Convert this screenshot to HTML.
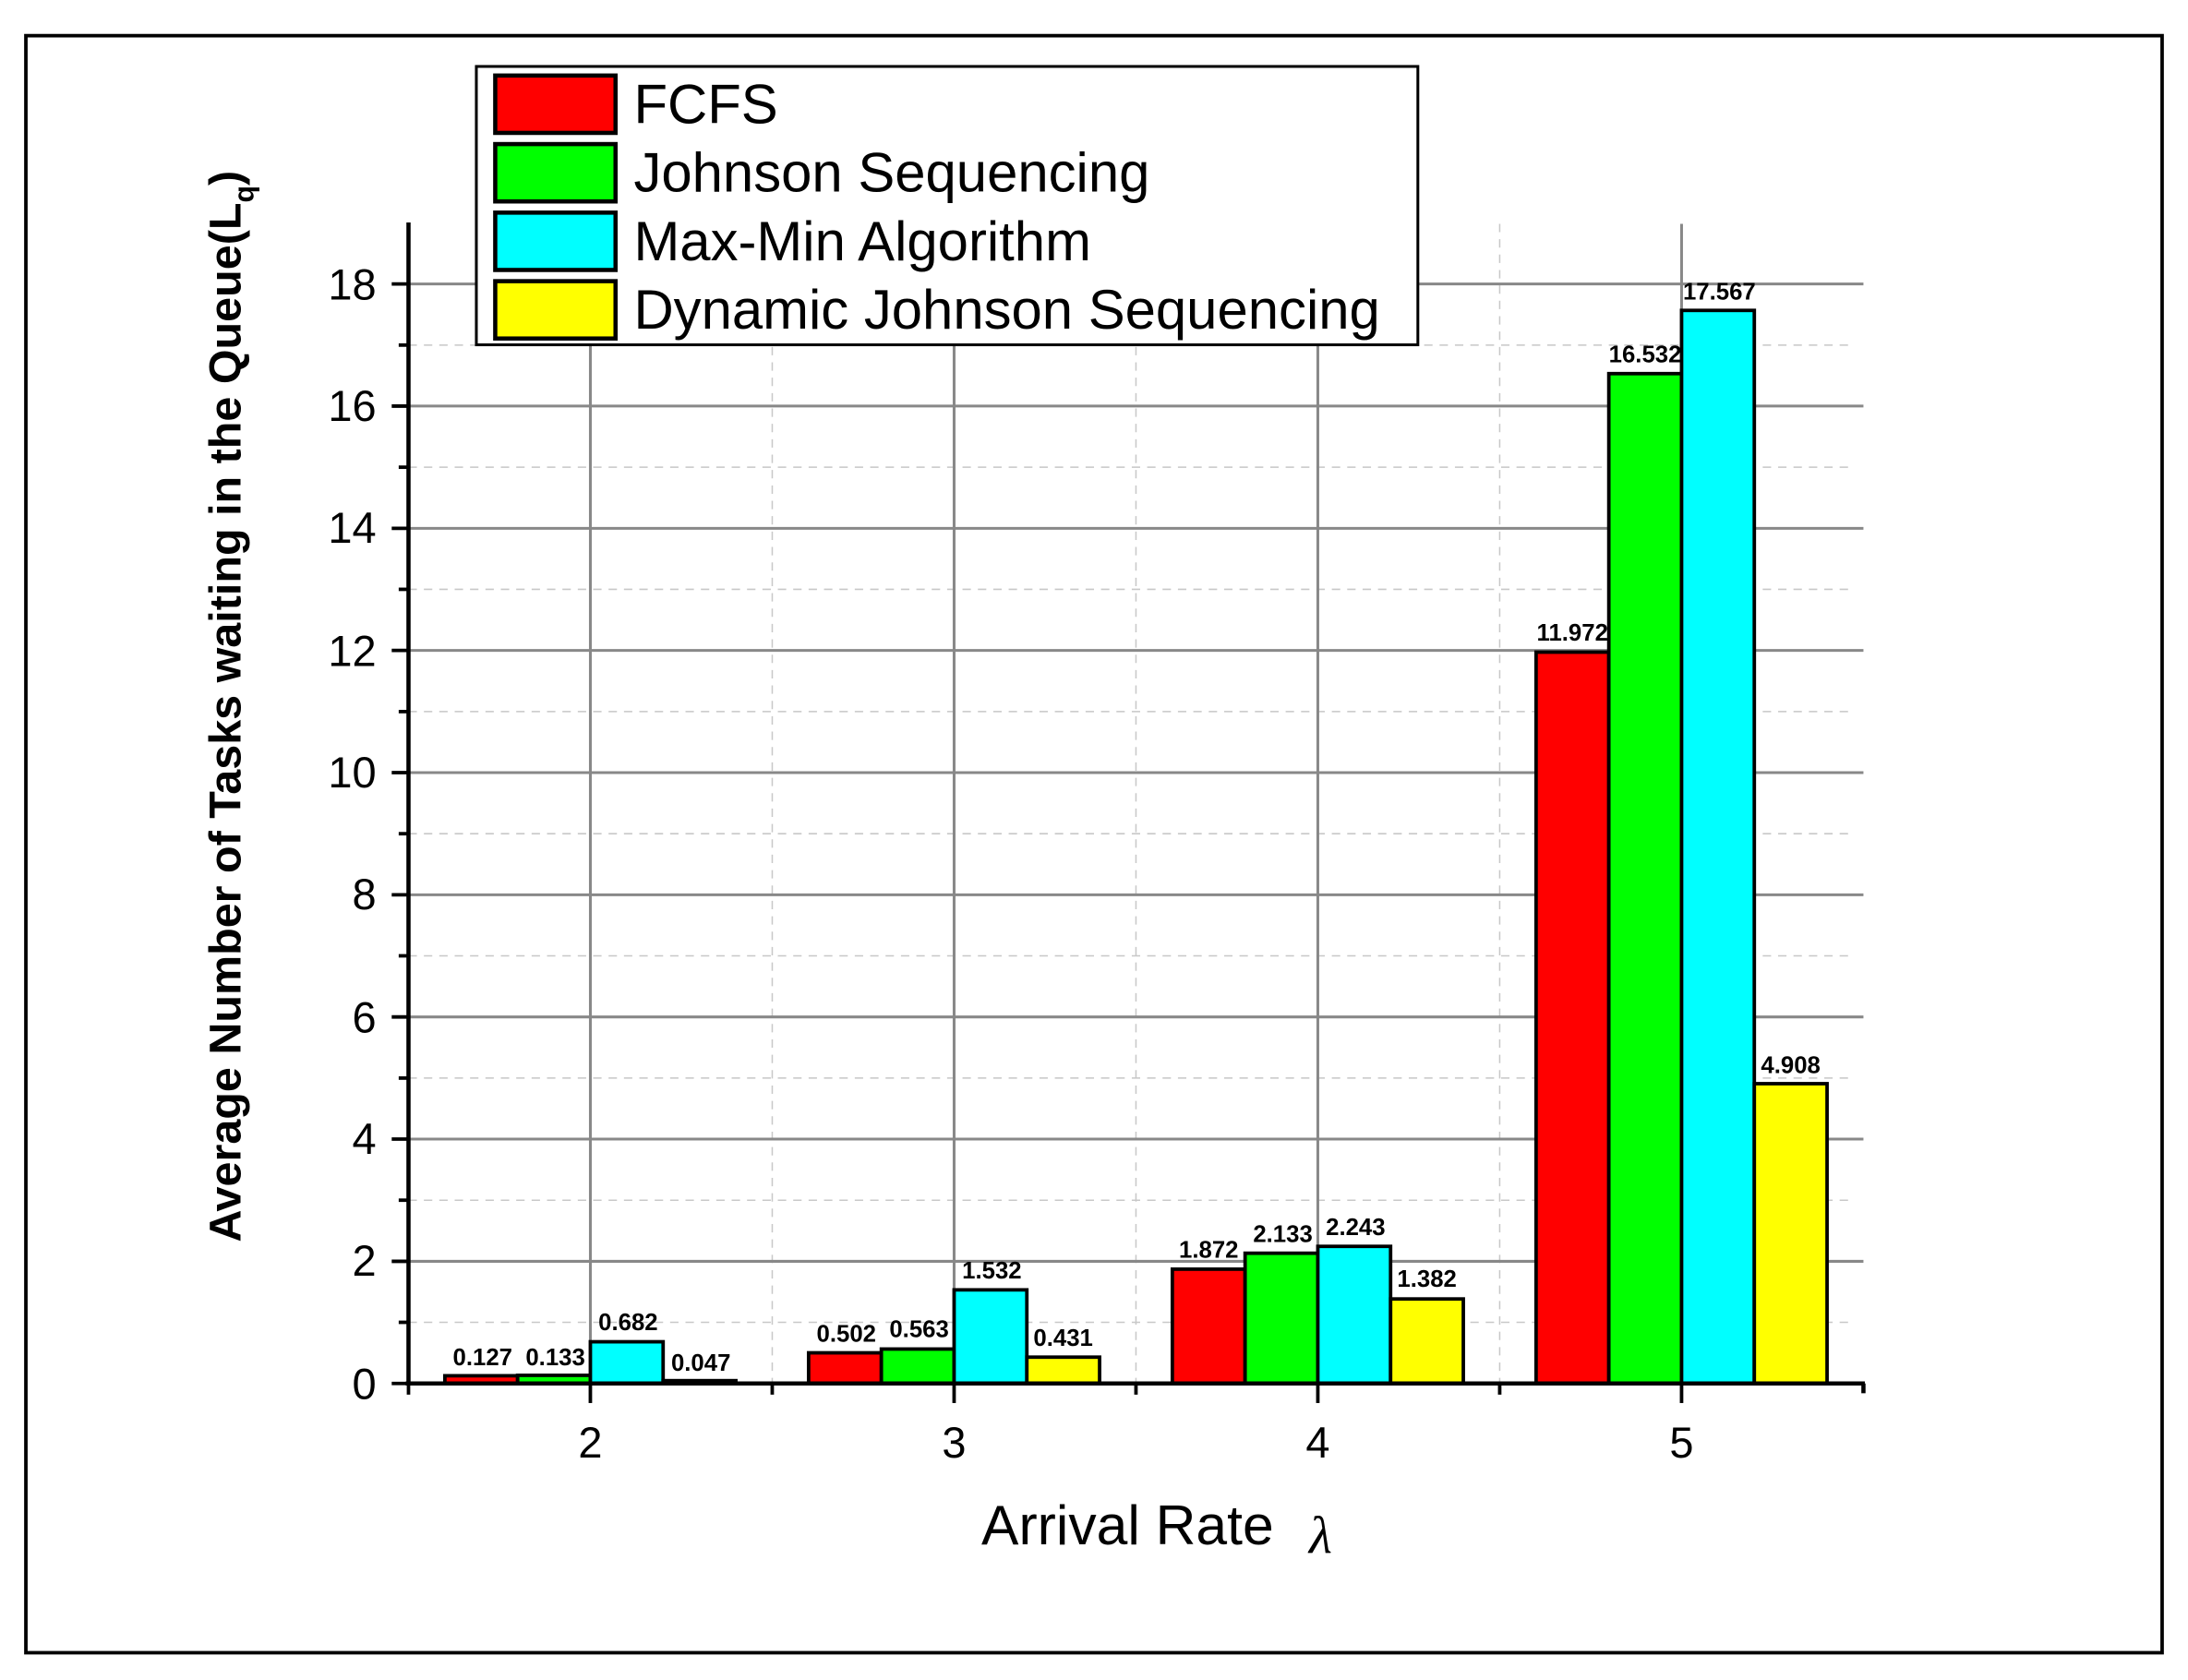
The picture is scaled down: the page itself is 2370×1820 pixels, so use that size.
<!DOCTYPE html>
<html><head><meta charset="utf-8"><style>html,body{margin:0;padding:0;background:#fff}svg{display:block}</style></head>
<body>
<svg width="2370" height="1820" viewBox="0 0 1564 1201" preserveAspectRatio="none" xmlns="http://www.w3.org/2000/svg" font-family="Liberation Sans, Arial, sans-serif">
<rect x="0" y="0" width="1564" height="1201" fill="#fff"/>
<rect x="18.5" y="25.5" width="1527" height="1156" fill="none" stroke="#000" stroke-width="2.5"/>
<g stroke="#c8c8c8" stroke-width="1" stroke-dasharray="6,5">
<line x1="292" y1="945.3" x2="1325" y2="945.3"/>
<line x1="292" y1="858" x2="1325" y2="858"/>
<line x1="292" y1="770.7" x2="1325" y2="770.7"/>
<line x1="292" y1="683.3" x2="1325" y2="683.3"/>
<line x1="292" y1="596" x2="1325" y2="596"/>
<line x1="292" y1="508.7" x2="1325" y2="508.7"/>
<line x1="292" y1="421.3" x2="1325" y2="421.3"/>
<line x1="292" y1="334" x2="1325" y2="334"/>
<line x1="292" y1="246.7" x2="1325" y2="246.7"/>
<line x1="552" y1="160" x2="552" y2="989"/>
<line x1="812" y1="160" x2="812" y2="989"/>
<line x1="1072" y1="160" x2="1072" y2="989"/>
</g>
<g stroke="#888" stroke-width="2">
<line x1="292" y1="901.7" x2="1332" y2="901.7"/>
<line x1="292" y1="814.3" x2="1332" y2="814.3"/>
<line x1="292" y1="727" x2="1332" y2="727"/>
<line x1="292" y1="639.7" x2="1332" y2="639.7"/>
<line x1="292" y1="552.3" x2="1332" y2="552.3"/>
<line x1="292" y1="465" x2="1332" y2="465"/>
<line x1="292" y1="377.7" x2="1332" y2="377.7"/>
<line x1="292" y1="290.3" x2="1332" y2="290.3"/>
<line x1="292" y1="203" x2="1332" y2="203"/>
<line x1="422" y1="160" x2="422" y2="989"/>
<line x1="682" y1="160" x2="682" y2="989"/>
<line x1="942" y1="160" x2="942" y2="989"/>
<line x1="1202" y1="160" x2="1202" y2="989"/>
</g>
<g stroke="#000" stroke-width="2.5">
<rect x="318" y="983.5" width="52" height="5.5" fill="#ff0000"/>
<rect x="370" y="983.2" width="52" height="5.8" fill="#00ff00"/>
<rect x="422" y="959.2" width="52" height="29.8" fill="#00ffff"/>
<rect x="474" y="987" width="52" height="2" fill="#ffff00"/>
<rect x="578" y="967.1" width="52" height="21.9" fill="#ff0000"/>
<rect x="630" y="964.4" width="52" height="24.6" fill="#00ff00"/>
<rect x="682" y="922.1" width="52" height="66.9" fill="#00ffff"/>
<rect x="734" y="970.2" width="52" height="18.8" fill="#ffff00"/>
<rect x="838" y="907.3" width="52" height="81.7" fill="#ff0000"/>
<rect x="890" y="895.9" width="52" height="93.1" fill="#00ff00"/>
<rect x="942" y="891" width="52" height="98" fill="#00ffff"/>
<rect x="994" y="928.6" width="52" height="60.4" fill="#ffff00"/>
<rect x="1098" y="466.2" width="52" height="522.8" fill="#ff0000"/>
<rect x="1150" y="267.1" width="52" height="721.9" fill="#00ff00"/>
<rect x="1202" y="221.9" width="52" height="767.1" fill="#00ffff"/>
<rect x="1254" y="774.7" width="52" height="214.3" fill="#ffff00"/>
</g>
<g font-size="17" font-weight="bold" text-anchor="middle" fill="#000">
<text x="345" y="976">0.127</text><text x="397" y="976">0.133</text><text x="449" y="951">0.682</text><text x="501" y="980">0.047</text>
<text x="605" y="959">0.502</text><text x="657" y="956">0.563</text><text x="709" y="914">1.532</text><text x="760" y="962">0.431</text>
<text x="864" y="899">1.872</text><text x="917" y="888">2.133</text><text x="969" y="883">2.243</text><text x="1020" y="920">1.382</text>
<text x="1124" y="458">11.972</text><text x="1176" y="259">16.532</text><text x="1229" y="214">17.567</text><text x="1280" y="767">4.908</text>
</g>
<g stroke="#000" stroke-width="3">
<line x1="292" y1="159" x2="292" y2="990"/>
<line x1="290" y1="989" x2="1333" y2="989"/>
<line x1="1332" y1="989" x2="1332" y2="996"/>
</g>
<g stroke="#000" stroke-width="2.5">
<line x1="280" y1="989" x2="292" y2="989"/><line x1="280" y1="901.7" x2="292" y2="901.7"/><line x1="280" y1="814.3" x2="292" y2="814.3"/><line x1="280" y1="727" x2="292" y2="727"/><line x1="280" y1="639.7" x2="292" y2="639.7"/><line x1="280" y1="552.3" x2="292" y2="552.3"/><line x1="280" y1="465" x2="292" y2="465"/><line x1="280" y1="377.7" x2="292" y2="377.7"/><line x1="280" y1="290.3" x2="292" y2="290.3"/><line x1="280" y1="203" x2="292" y2="203"/>
<line x1="285" y1="945.3" x2="292" y2="945.3"/><line x1="285" y1="858" x2="292" y2="858"/><line x1="285" y1="770.7" x2="292" y2="770.7"/><line x1="285" y1="683.3" x2="292" y2="683.3"/><line x1="285" y1="596" x2="292" y2="596"/><line x1="285" y1="508.7" x2="292" y2="508.7"/><line x1="285" y1="421.3" x2="292" y2="421.3"/><line x1="285" y1="334" x2="292" y2="334"/><line x1="285" y1="246.7" x2="292" y2="246.7"/>
<line x1="422" y1="989" x2="422" y2="1003"/><line x1="682" y1="989" x2="682" y2="1003"/><line x1="942" y1="989" x2="942" y2="1003"/><line x1="1202" y1="989" x2="1202" y2="1003"/>
<line x1="292" y1="989" x2="292" y2="997"/><line x1="552" y1="989" x2="552" y2="997"/><line x1="812" y1="989" x2="812" y2="997"/><line x1="1072" y1="989" x2="1072" y2="997"/>
</g>
<g font-size="31" text-anchor="end" fill="#000">
<text x="269" y="1000">0</text><text x="269" y="912">2</text><text x="269" y="825">4</text><text x="269" y="738">6</text><text x="269" y="650">8</text><text x="269" y="563">10</text><text x="269" y="476">12</text><text x="269" y="388">14</text><text x="269" y="301">16</text><text x="269" y="214">18</text>
</g>
<g font-size="31" text-anchor="middle" fill="#000">
<text x="422" y="1042">2</text><text x="682" y="1042">3</text><text x="942" y="1042">4</text><text x="1202" y="1042">5</text>
</g>
<text x="806" y="1104" font-size="40" text-anchor="middle" fill="#000">Arrival Rate</text>
<text x="944" y="1110" font-size="38" font-style="italic" font-family="Liberation Serif, serif" text-anchor="middle" fill="#000">λ</text>
<text transform="translate(172,505) rotate(-90)" font-size="32" font-weight="bold" text-anchor="middle" fill="#000">Average Number of Tasks waiting in the Queue(L<tspan font-size="20" dy="9">q</tspan><tspan dy="-9">)</tspan></text>
<rect x="340.5" y="47.5" width="673" height="199" fill="#fff" stroke="#000" stroke-width="2"/>
<g stroke="#000" stroke-width="3">
<rect x="354" y="54" width="86" height="41" fill="#ff0000"/>
<rect x="354" y="103" width="86" height="41" fill="#00ff00"/>
<rect x="354" y="152" width="86" height="41" fill="#00ffff"/>
<rect x="354" y="201" width="86" height="41" fill="#ffff00"/>
</g>
<g font-size="39.5" fill="#000">
<text x="453" y="88">FCFS</text>
<text x="453" y="137">Johnson Sequencing</text>
<text x="453" y="186">Max-Min Algorithm</text>
<text x="453" y="235">Dynamic Johnson Sequencing</text>
</g>
</svg>
</body></html>
